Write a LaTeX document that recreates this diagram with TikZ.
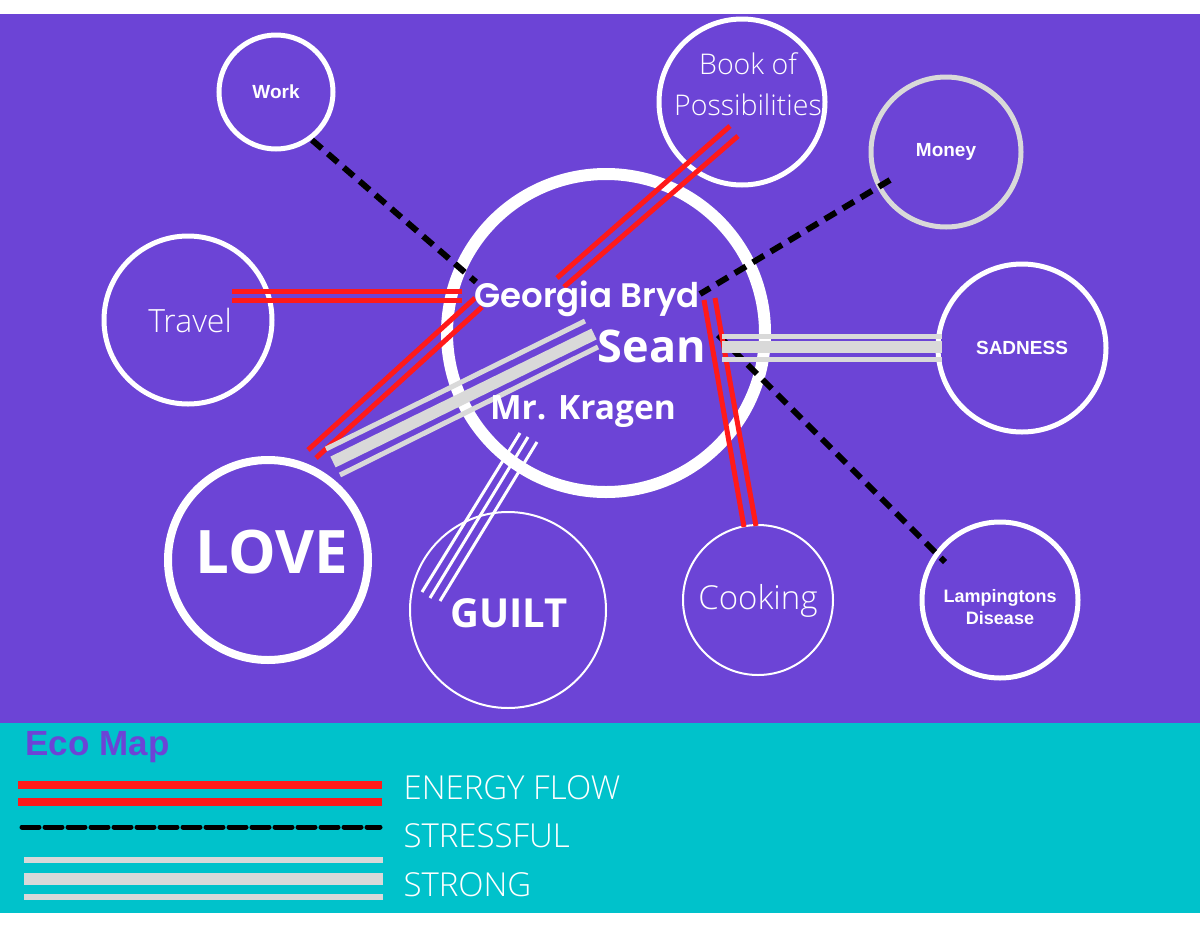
\documentclass[tikz,border=0pt]{standalone}
\usepackage{fontspec}
\setmainfont{Open Sans}
\newfontfamily\osl{Open Sans Light}
\newfontfamily\osb{Open Sans Bold}
\newfontfamily\lsb{Liberation Sans Bold}
\newfontfamily\pop{Poppins SemiBold}
\definecolor{purp}{HTML}{6C44D6}
\definecolor{teal2}{HTML}{00C2CB}
\definecolor{redl}{HTML}{FF1A1A}
\definecolor{grayl}{HTML}{D9D9D9}
\begin{document}
\begin{tikzpicture}[x=1pt,y=-1pt,
 circ/.style={circle,draw=white,line width=5pt,minimum size=#1,inner sep=0pt,text=white,align=center},
 red2/.style={draw=redl,line width=5pt},
 dsh/.style={draw=black,line width=6pt,dash pattern=on 13pt off 8pt},
 gthin/.style={draw=grayl,line width=5pt},
 gthick/.style={draw=grayl,line width=12pt},
 wl/.style={draw=white,line width=3pt}]
\useasboundingbox (0,0) rectangle (1200,927);
\fill[white] (0,0) rectangle (1200,927);
\fill[purp] (0,14) rectangle (1200,723);
\fill[teal2] (0,723) rectangle (1200,913);
% circles
\node[circ=114pt,font=\lsb\fontsize{19}{20}\selectfont] (work) at (276,92) {Work};
\node[circ=166pt] (book) at (742,102) {};
\node[text=white,align=center,font=\osl\fontsize{28.5}{41}\selectfont] (bookt) at (748,84) {Book of\\Possibilities};
\node[circ=150pt,draw=grayl,font=\lsb\fontsize{19}{20}\selectfont] (money) at (946,152) {Money};
\node[circ=318pt,line width=12pt] (me) at (606,333) {};
\node[circ=168pt] (travel) at (188,320) {};
\node[text=white,font=\osl\fontsize{32}{32}\selectfont] (travelt) at (190,320) {Travel};
\node[circ=168pt,font=\lsb\fontsize{19}{20}\selectfont] (sad) at (1022,348) {SADNESS};
\node[circ=200pt,line width=8pt] (love) at (268,560) {};
\node[text=white,font=\osb\fontsize{60}{60}\selectfont] (lovet) at (272,552) {LOVE};
\node[circ=196pt,line width=2pt] (guilt) at (508,610) {};
\node[text=white,font=\osb\fontsize{40}{40}\selectfont] (guiltt) at (509,613) {GUILT};
\node[circ=150pt,line width=2pt] (cook) at (758,600) {};
\node[text=white,font=\osl\fontsize{33}{33}\selectfont] (cookt) at (758,601) {Cooking};
\node[circ=156pt] (lamp) at (1000,600) {};
\node[text=white,align=center,font=\lsb\fontsize{18}{22}\selectfont] (lampt) at (1000,607) {Lampingtons\\Disease};
% connector anchors
\coordinate (wA) at (312,140); \coordinate (wB) at (476,282);
\coordinate (mA) at (890,180); \coordinate (mB) at (700,294);
\coordinate (lA) at (718,335); \coordinate (lB) at (945,562);
% lines
\draw[dsh] (wA) -- (wB);
\draw[dsh] (mA) -- (mB);
\draw[dsh] (lA) -- (lB);
\draw[red2] (730,126) -- (557,278);
\draw[red2] (738,136) -- (564,287);
\draw[red2] (232,291) -- (462,291);
\draw[red2] (232,300) -- (462,300);
\draw[red2] (308,450) -- (475,298);
\draw[red2] (316,458) -- (482,307);
\draw[red2] (704,300) -- (744,527);
\draw[red2] (715,298) -- (756,526);
\draw[gthin] (326,449) -- (585,321);
\draw[gthick] (333,462) -- (594,334);
\draw[gthin] (340,475) -- (598,347);
\draw[gthin] (722,336) -- (942,336);
\draw[gthick] (722,347) -- (942,347);
\draw[gthin] (722,359) -- (942,359);
\draw[wl] (520,433) -- (422,592);
\draw[wl] (528,437) -- (430,598);
\draw[wl] (537,442) -- (440,601);
% names
\node[text=white,font=\pop\fontsize{34}{35}\selectfont] (gb) at (587,299) {Georgia Bryd};
\node[text=white,font=\osb\fontsize{45}{46}\selectfont] (sean) at (652,346) {Sean};
\node[text=white,font=\osb\fontsize{33.5}{34}\selectfont] (mk) at (583,412) {Mr. Kragen};
% legend
\node[anchor=west,text=purp,font=\lsb\fontsize{35}{35}\selectfont] (eco) at (22,747) {Eco Map};
\draw[redl,line width=8pt] (18,785) -- (382,785);
\draw[redl,line width=8pt] (18,802) -- (382,802);
\draw[black,line width=5pt,dash pattern=on 17pt off 6pt,line cap=round] (22,827) -- (380,827);
\draw[grayl,line width=6pt] (24,860) -- (383,860);
\draw[grayl,line width=12pt] (24,879) -- (383,879);
\draw[grayl,line width=6pt] (24,897) -- (383,897);
\node[anchor=west,text=white,font=\osl\fontsize{33}{33}\selectfont] (e1) at (400,788) {ENERGY FLOW};
\node[anchor=west,text=white,font=\osl\fontsize{33}{33}\selectfont] (e2) at (400,836) {STRESSFUL};
\node[anchor=west,text=white,font=\osl\fontsize{33}{33}\selectfont] (e3) at (400,885) {STRONG};
\end{tikzpicture}
\end{document}
